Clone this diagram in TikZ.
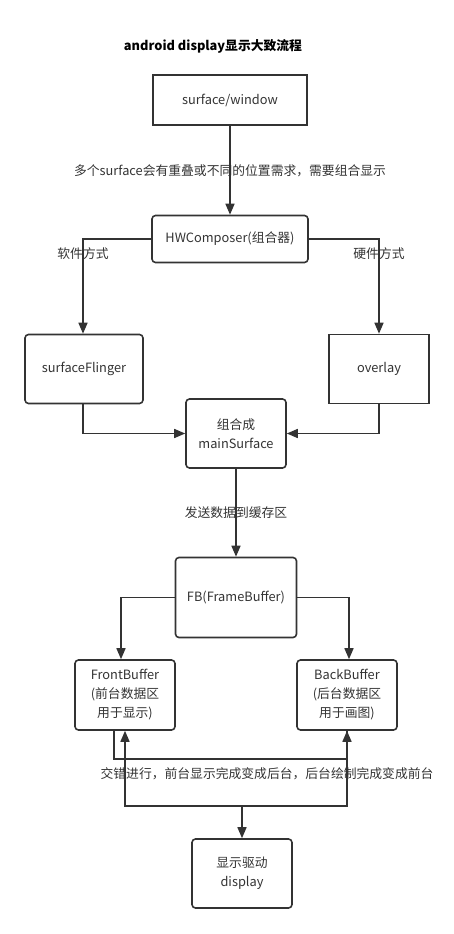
\documentclass[tikz,border=0pt]{standalone}
\usepackage{fontspec}
\setmainfont{Noto Sans CJK SC}
\usetikzlibrary{arrows.meta}
\definecolor{ink}{HTML}{333333}
\tikzset{
  box/.style={draw=ink, line width=1.6pt, text=ink, align=center, inner sep=0pt,
    font=\fontsize{12.8}{19}\selectfont},
  rbox/.style={box, rounded corners=3.5pt},
  conn/.style={draw=ink, line width=1.6pt, -{Triangle[length=11pt,width=9pt]}},
  lbl/.style={text=ink, inner sep=0pt, font=\fontsize{12.8}{15}\selectfont}
}
\begin{document}
\begin{tikzpicture}[x=1pt,y=-1pt]
\useasboundingbox (0,0) rectangle (454,934);
\node[lbl, font=\fontsize{12.8}{15}\selectfont\bfseries, text=black] (title) at (213,46) {android display显示大致流程};
\node[box, minimum width=154pt, minimum height=50pt] (sw) at (230,100) {surface/window};
\node[rbox, minimum width=156pt, minimum height=47pt] (hw) at (230,239) {HWComposer(组合器)};
\node[rbox, minimum width=118pt, minimum height=69pt] (sf) at (84,369) {surfaceFlinger};
\node[box, minimum width=100pt, minimum height=69pt] (ov) at (379,369) {overlay};
\node[rbox, minimum width=100pt, minimum height=69pt] (ms) at (236,433.5) {组合成\\mainSurface};
\node[rbox, minimum width=121pt, minimum height=80pt] (fb) at (236,597.5) {FB(FrameBuffer)};
\node[rbox, minimum width=100pt, minimum height=70pt] (front) at (125,695) {FrontBuffer\\(前台数据区\\用于显示)};
\node[rbox, minimum width=100pt, minimum height=70pt] (back) at (347,695) {BackBuffer\\(后台数据区\\用于画图)};
\node[rbox, minimum width=100pt, minimum height=69pt] (disp) at (242,873.5) {显示驱动\\display};

\draw[conn] (sw) -- (hw);
\node[lbl] (l1) at (230,171) {多个surface会有重叠或不同的位置需求，需要组合显示};
\draw[conn] (hw.west) -- (83,239) -- (sf.north -| 83,0);
\node[lbl] (l2) at (83,254) {软件方式};
\draw[conn] (hw.east) -- (379,239) -- (ov.north);
\node[lbl] (l3) at (379,254) {硬件方式};
\draw[conn] (sf.south -| 83,0) |- (ms.west);
\draw[conn] (ov.south) |- (ms.east);
\draw[conn] (ms) -- (fb);
\node[lbl] (l4) at (236,513) {发送数据到缓存区};
\draw[conn] (fb.west) -| (front.north -| 121,0);
\draw[conn] (fb.east) -| (back.north -| 349,0);
\draw[conn] (front.south -| 114,0) -- (114,759) -- (347,759) -- (back.south);
\coordinate (mid) at (242,806);
\draw[conn] (back.south) -- (347,806) -- (125,806) -- (front.south);
\node[lbl] (l5) at (267,774) {交错进行，前台显示完成变成后台，后台绘制完成变成前台};
\draw[conn] (mid) -- (disp);
\end{tikzpicture}
\end{document}
